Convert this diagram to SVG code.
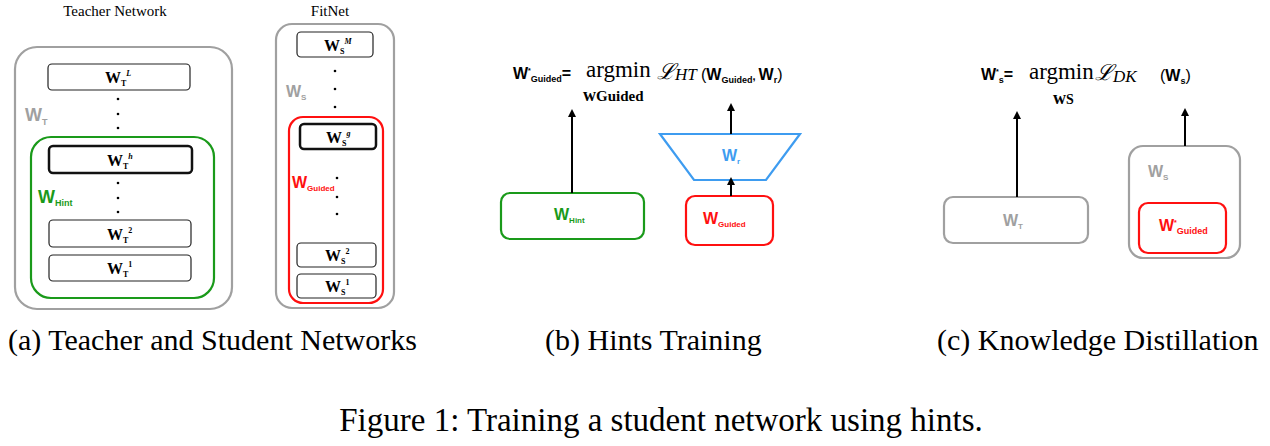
<svg xmlns="http://www.w3.org/2000/svg" width="1270" height="446" viewBox="0 0 1270 446">
<defs>
<style>
.s{font-family:"Liberation Serif",serif;fill:#000}
.a{font-family:"Liberation Sans",Arial,sans-serif;font-weight:bold}
.box{fill:#fff;stroke:#222;stroke-width:1.2}
.thick{fill:#fff;stroke:#111;stroke-width:2.5}
.gray{fill:none;stroke:#a0a0a0;stroke-width:2.2}
.green{fill:none;stroke:#1a9a1a;stroke-width:2.2}
.red{fill:none;stroke:#ff1010;stroke-width:2.2}
.dot{fill:#000}
.cn{stroke:#000;stroke-width:2;fill:none;marker-end:url(#ah)}
</style>
<marker id="ah" markerWidth="8" markerHeight="8" refX="4" refY="4" orient="auto" markerUnits="userSpaceOnUse" viewBox="0 0 8 8"><path d="M0,0 L8,4 L0,8 z" fill="#000"/></marker>
</defs>
<rect width="1270" height="446" fill="#fff"/>

<g id="panel-a">
<text class="s" x="115" y="16" font-size="15" text-anchor="middle">Teacher Network</text>
<text class="s" x="330" y="16" font-size="15" text-anchor="middle">FitNet</text>
<g id="teacher"><rect class="gray" x="15" y="47" width="217" height="262" rx="22"/>
<text class="a" x="25" y="121" font-size="18" fill="#a0a0a0">W<tspan font-size="9" dy="4">T</tspan></text></g>
<g id="wtl"><rect class="box" x="48" y="64" width="142" height="26" rx="4"/><text class="s" x="105" y="83" font-size="16" font-weight="bold">W<tspan font-size="8" dy="3">T</tspan><tspan font-size="8" dy="-10" font-style="italic">L</tspan></text></g>
<circle class="dot" cx="118" cy="99" r="1.3"/><circle class="dot" cx="118" cy="114" r="1.3"/><circle class="dot" cx="118" cy="128" r="1.3"/>
<g id="hint"><rect class="green" x="31" y="137" width="183" height="161" rx="20"/>
<text class="a" x="38" y="203" font-size="18" fill="#1a9a1a">W<tspan font-size="9" dy="3">Hint</tspan></text></g>
<g id="wth"><rect class="thick" x="49" y="146" width="143" height="27" rx="4"/><text class="s" x="107" y="166" font-size="16" font-weight="bold">W<tspan font-size="8" dy="3">T</tspan><tspan font-size="8" dy="-10" font-style="italic">h</tspan></text></g>
<circle class="dot" cx="118" cy="183" r="1.3"/><circle class="dot" cx="118" cy="198" r="1.3"/><circle class="dot" cx="118" cy="212" r="1.3"/>
<g id="wt2"><rect class="box" x="49" y="220" width="142" height="27" rx="4"/><text class="s" x="107" y="240" font-size="16" font-weight="bold">W<tspan font-size="8" dy="3">T</tspan><tspan font-size="8" dy="-10">2</tspan></text></g>
<g id="wt1"><rect class="box" x="49" y="255" width="142" height="26" rx="4"/><text class="s" x="107" y="274" font-size="16" font-weight="bold">W<tspan font-size="8" dy="3">T</tspan><tspan font-size="8" dy="-10">1</tspan></text></g>

<g id="fitnet"><rect class="gray" x="276" y="24" width="118" height="284" rx="16"/>
<text class="a" x="286" y="97" font-size="16" fill="#a0a0a0">W<tspan font-size="8" dy="3">S</tspan></text></g>
<g id="wsm"><rect class="box" x="297" y="32" width="76" height="25" rx="4"/><text class="s" x="324" y="51" font-size="16" font-weight="bold">W<tspan font-size="8" dy="3">S</tspan><tspan font-size="8" dy="-10" font-style="italic">M</tspan></text></g>
<circle class="dot" cx="335" cy="71" r="1.3"/><circle class="dot" cx="335" cy="89" r="1.3"/><circle class="dot" cx="335" cy="107" r="1.3"/>
<g id="guided"><rect class="red" x="289" y="117" width="94" height="186" rx="14"/>
<text class="a" x="292" y="188" font-size="16" fill="#ff1010">W<tspan font-size="8" dy="3">Guided</tspan></text></g>
<g id="wsg"><rect class="thick" x="300" y="124" width="76" height="25" rx="4"/><text class="s" x="326" y="143" font-size="16" font-weight="bold">W<tspan font-size="8" dy="3">S</tspan><tspan font-size="8" dy="-10" font-style="italic">g</tspan></text></g>
<circle class="dot" cx="337" cy="178" r="1.3"/><circle class="dot" cx="337" cy="197" r="1.3"/><circle class="dot" cx="337" cy="214" r="1.3"/>
<g id="ws2"><rect class="box" x="297" y="243" width="79" height="24" rx="4"/><text class="s" x="325" y="261" font-size="16" font-weight="bold">W<tspan font-size="8" dy="3">S</tspan><tspan font-size="8" dy="-10">2</tspan></text></g>
<g id="ws1"><rect class="box" x="297" y="274" width="79" height="24" rx="4"/><text class="s" x="325" y="292" font-size="16" font-weight="bold">W<tspan font-size="8" dy="3">S</tspan><tspan font-size="8" dy="-10">1</tspan></text></g>
</g>

<g id="panel-b">
<text class="a" x="513" y="79" font-size="16">W<tspan font-size="7" dy="-6">*</tspan><tspan font-size="9" dy="9">Guided</tspan><tspan dy="-3" font-size="16">=</tspan></text>
<text class="s" x="586" y="77" font-size="23">argmin</text>
<text class="s" x="583" y="101" font-size="18" font-weight="bold">w<tspan font-size="15">Guided</tspan></text>
<text class="s" x="657" y="79" font-size="22" font-style="italic">ℒ<tspan font-size="17" dy="1">HT</tspan></text>
<text class="a" x="701" y="80" font-size="16"><tspan font-weight="normal">(</tspan>W<tspan font-size="9" dy="3">Guided</tspan><tspan font-size="11" dy="-3">, </tspan>W<tspan font-size="9" dy="3">r</tspan><tspan dy="-3" font-weight="normal">)</tspan></text>
<g id="hintb"><rect class="green" x="501" y="193" width="143" height="46" rx="9"/><text class="a" x="554" y="220" font-size="16" fill="#1a9a1a">W<tspan font-size="8" dy="3">Hint</tspan></text></g>
<g id="guidedb"><rect class="red" x="686" y="196" width="87" height="49" rx="9"/><text class="a" x="703" y="224" font-size="16" fill="#ff1010">W<tspan font-size="8" dy="3">Guided</tspan></text></g>
<g id="regressor"><path d="M660,134 L800,134 L766,180 L694,180 Z" fill="none" stroke="#3e9cf0" stroke-width="2.2"/><text class="a" x="722" y="161" font-size="16" fill="#3e9cf0">W<tspan font-size="8" dy="3">r</tspan></text></g>
</g>

<g id="panel-c">
<text class="a" x="981" y="80" font-size="16">W<tspan font-size="7" dy="-6">*</tspan><tspan font-size="9" dy="9">s</tspan><tspan dy="-3" font-size="16">=</tspan></text>
<text class="s" x="1029" y="79" font-size="23">argmin</text>
<text class="s" x="1053" y="104" font-size="18" font-weight="bold">w<tspan font-size="14">S</tspan></text>
<text class="s" x="1095" y="80" font-size="22" font-style="italic">ℒ<tspan font-size="17" dy="2">DK</tspan></text>
<text class="a" x="1160" y="81" font-size="16"><tspan font-weight="normal">(</tspan>W<tspan font-size="9" dy="3">s</tspan><tspan dy="-3" font-weight="normal">)</tspan></text>
<g id="wtc"><rect class="gray" x="944" y="197" width="144" height="46" rx="9"/><text class="a" x="1003" y="226" font-size="16" fill="#a0a0a0">W<tspan font-size="8" dy="3">T</tspan></text></g>
<g id="wsc"><rect class="gray" x="1129" y="146" width="111" height="112" rx="14"/><text class="a" x="1148" y="177" font-size="16" fill="#a0a0a0">W<tspan font-size="8" dy="3">S</tspan></text></g>
<g id="wgc"><rect class="red" x="1139" y="203" width="87" height="50" rx="9"/><text class="a" x="1159" y="231" font-size="16" fill="#ff1010">W<tspan font-size="7" dy="-6">*</tspan><tspan font-size="9" dy="9">Guided</tspan></text></g>
</g>

<g id="connectors">
<line class="cn" x1="572" y1="193" x2="572" y2="113"/>
<line class="cn" x1="731" y1="134" x2="731" y2="107"/>
<line class="cn" x1="731" y1="196" x2="731" y2="181"/>
<line class="cn" x1="1017" y1="197" x2="1017" y2="115"/>
<line class="cn" x1="1185" y1="146" x2="1185" y2="112"/>
</g>

<g id="captions" class="s" font-size="30">
<text x="8" y="350">(a) Teacher and Student Networks</text>
<text x="545" y="350">(b) Hints Training</text>
<text x="937" y="350">(c) Knowledge Distillation</text>
<text x="661" y="431" text-anchor="middle" font-size="33">Figure 1: Training a student network using hints.</text>
</g>
</svg>
